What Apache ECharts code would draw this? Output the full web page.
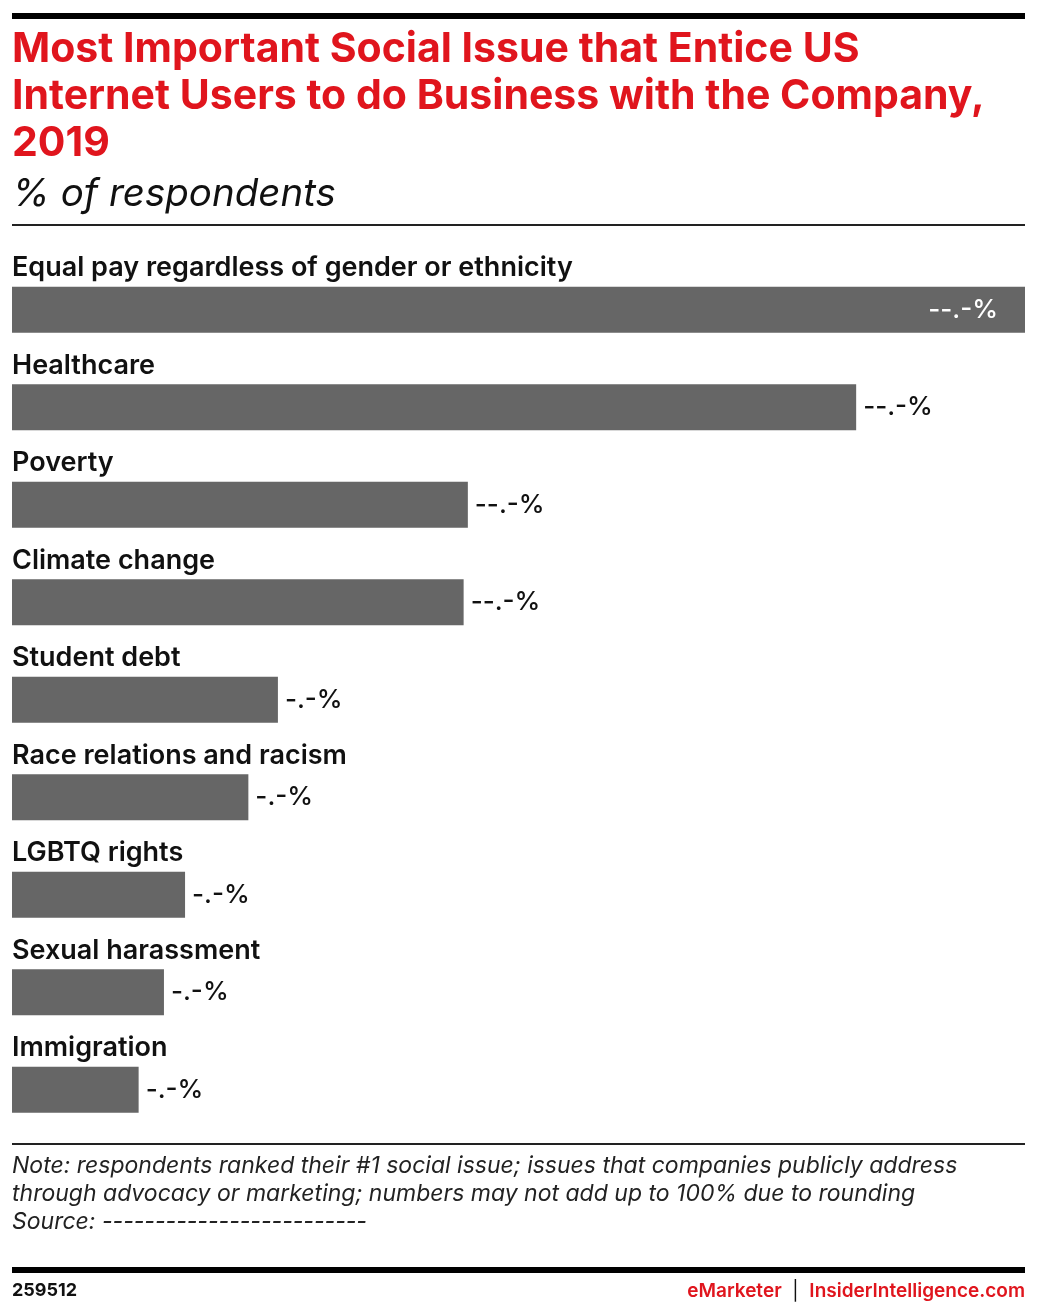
<!DOCTYPE html>
<html>
<head>
<meta charset="utf-8">
<script src="https://cdn.jsdelivr.net/npm/echarts@6/dist/echarts.min.js"></script>
<style>
  html, body { margin: 0; padding: 0; background: #fff; }
  #chart { width: 1038px; height: 1316px; }
</style>
</head>
<body>
<div id="chart"></div>
<script>
const categories = [
  "Equal pay regardless of gender or ethnicity",
  "Healthcare",
  "Poverty",
  "Climate change",
  "Student debt",
  "Race relations and racism",
  "LGBTQ rights",
  "Sexual harassment",
  "Immigration"
];
const values = [24.0, 20.0, 10.8, 10.7, 6.3, 5.6, 4.1, 3.6, 3.0];
const valueLabels = ["--.-%", "--.-%", "--.-%", "--.-%", "-.-%", "-.-%", "-.-%", "-.-%", "-.-%"];

const RED = "#e0151d";
const FONT = "Inter, Roboto, 'Noto Sans', sans-serif";

const chart = echarts.init(document.getElementById('chart'), null, { renderer: 'canvas' });

const seriesData = values.map((v, i) => {
  const item = { value: v };
  if (i === 0) {
    item.label = { position: 'insideRight', color: '#ffffff', distance: 27 };
  }
  return item;
});

chart.setOption({
  animation: false,
  backgroundColor: '#ffffff',
  grid: { left: 12, right: 13, top: 261, height: 877.5, containLabel: false },
  xAxis: {
    type: 'value', min: 0, max: 24,
    show: false
  },
  yAxis: {
    type: 'category',
    data: categories,
    inverse: true,
    axisLine: { show: false },
    axisTick: { show: false },
    splitLine: { show: false },
    axisLabel: {
      inside: true,
      margin: 0,
      align: 'left',
      verticalAlign: 'bottom',
      padding: [0, 0, 28, 0],
      color: '#111111',
      fontFamily: FONT,
      fontWeight: 600,
      fontSize: 27
    }
  },
  series: [{
    type: 'bar',
    data: seriesData,
    barWidth: 46,
    itemStyle: { color: '#666666' },
    label: {
      show: true,
      position: 'right',
      distance: 7,
      color: '#111111',
      fontFamily: FONT,
      fontWeight: 500,
      fontSize: 26,
      formatter: p => valueLabels[p.dataIndex]
    }
  }],
  graphic: [
    { type: 'rect', shape: { x: 12, y: 13, width: 1013, height: 6 }, style: { fill: '#000' } },
    { type: 'text', left: 12, top: 26, style: {
        text: 'Most Important Social Issue that Entice US\nInternet Users to do Business with the Company,\n2019',
        fill: RED, font: "bold 41px " + FONT, lineHeight: 47 } },
    { type: 'text', left: 12, top: 175, style: {
        text: '% of respondents', fill: '#111', font: "italic 38.5px " + FONT } },
    { type: 'rect', shape: { x: 12, y: 224, width: 1013, height: 2 }, style: { fill: '#222' } },
    { type: 'rect', shape: { x: 12, y: 1143, width: 1013, height: 2 }, style: { fill: '#222' } },
    { type: 'text', left: 12, top: 1152, style: {
        text: 'Note: respondents ranked their #1 social issue; issues that companies publicly address\nthrough advocacy or marketing; numbers may not add up to 100% due to rounding\nSource: -------------------------',
        fill: '#222', font: "italic 23px " + FONT, lineHeight: 28 } },
    { type: 'rect', shape: { x: 12, y: 1267, width: 1013, height: 6 }, style: { fill: '#000' } },
    { type: 'text', left: 12, top: 1282, style: {
        text: '259512', fill: '#111', font: "bold 18px " + FONT } },
    { type: 'text', right: 13, top: 1282, style: {
        text: '{a|eMarketer}{b|  |  }{c|InsiderIntelligence.com}',
        rich: {
          a: { fill: RED, font: "600 19px " + FONT },
          b: { fill: '#111', font: "19px " + FONT },
          c: { fill: RED, font: "600 19px " + FONT }
        } } }
  ]
});
</script>
</body>
</html>
